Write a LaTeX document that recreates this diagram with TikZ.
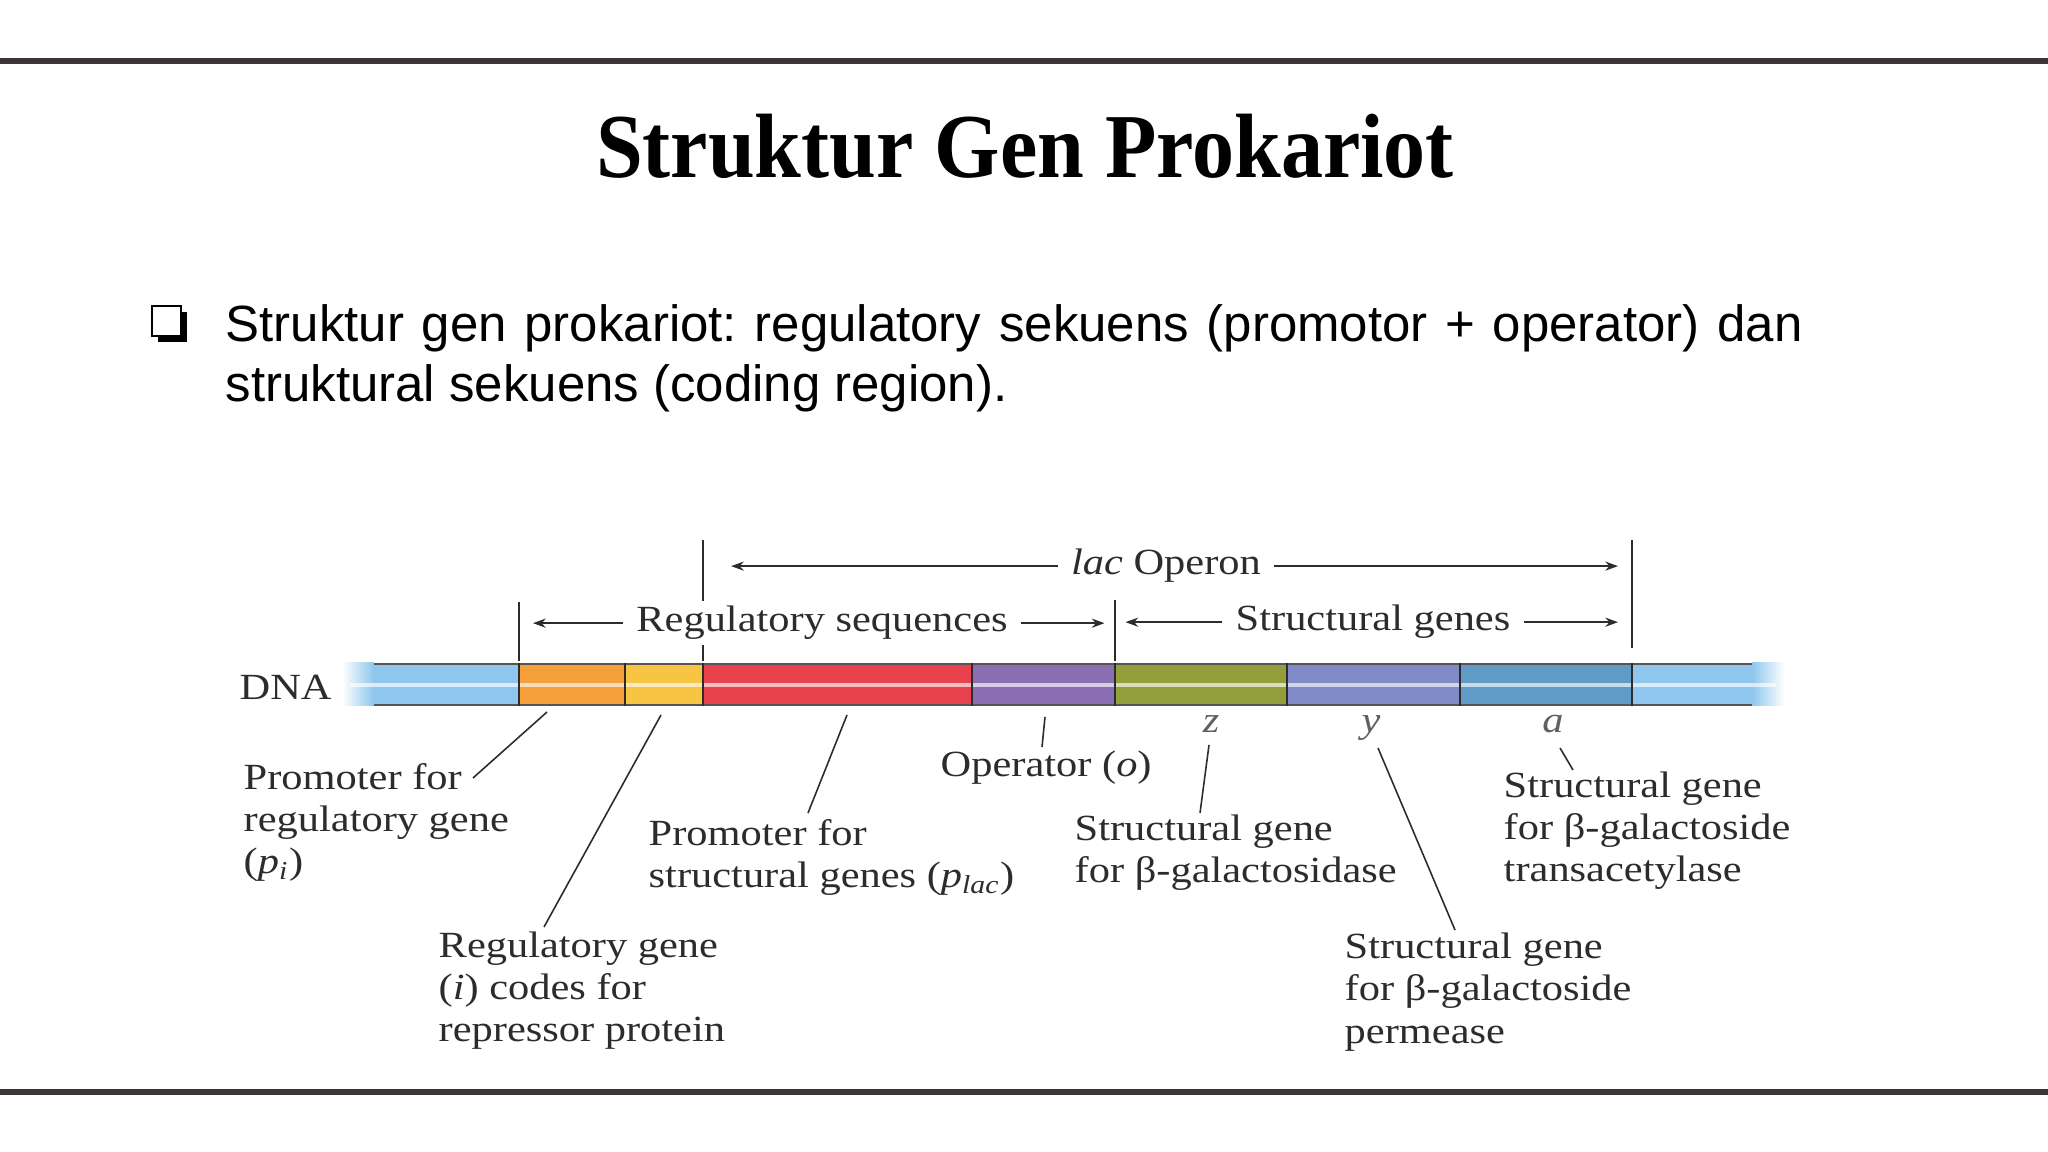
\documentclass[tikz,border=0pt]{standalone}
\usepackage{fontspec}
\setmainfont{Liberation Serif}
\setsansfont{Liberation Sans}
\newfontfamily\figfont[FakeStretch=1.15]{Liberation Serif}
\newfontfamily\headfont[FakeStretch=0.92]{Liberation Serif}
\usetikzlibrary{arrows.meta,positioning,calc}
\definecolor{ruleGray}{HTML}{3B3536}
\definecolor{figInk}{HTML}{2E2B2C}
\definecolor{dnaSky}{HTML}{8EC6EE}
\definecolor{dnaOrange}{HTML}{F5A03A}
\definecolor{dnaYellow}{HTML}{F7C443}
\definecolor{dnaRed}{HTML}{E8424F}
\definecolor{dnaPurple}{HTML}{8A6FB2}
\definecolor{dnaOlive}{HTML}{929F3B}
\definecolor{dnaPeri}{HTML}{7F8AC7}
\definecolor{dnaTeal}{HTML}{5F9BC4}
\tikzset{
  % Labels of the lac operon figure.
  lac/label/.style={
    font=\figfont\fontsize{10.5}{12}\selectfont, text=figInk,
    inner sep=0pt, align=left
  },
  % Span labels sit on the dimension lines and hide the ticks behind them.
  lac/span/.style={
    lac/label, fill=white, inner xsep=3.6pt, inner ysep=1.5pt
  },
  lac/tick/.style={draw=figInk, line width=0.45pt},
  lac/dim/.style={
    -{Stealth[length=3.6pt,width=2.6pt]}, draw=figInk, line width=0.45pt
  },
  lac/lead/.style={draw=figInk, line width=0.45pt},
}

\begin{document}
\begin{tikzpicture}[x=0.1mm,y=-0.1mm,
  gene/.style={font=\figfont\itshape\fontsize{10.5}{12}\selectfont, text=figInk!75, inner sep=0pt},
  sep/.style={draw=figInk, line width=0.6pt}]
  \useasboundingbox (0,0) rectangle (2048,1152);
  \fill[white] (0,0) rectangle (2048,1152);
  \fill[ruleGray] (0,58) rectangle (2048,64);
  \fill[ruleGray] (0,1089) rectangle (2048,1095);

  \node[font=\headfont\bfseries\fontsize{26}{30}\selectfont, anchor=base] (title) at (1025,178)
       {Struktur Gen Prokariot};
  \fill[black] (158,312) rectangle (187,342);
  \filldraw[fill=white, draw=black, line width=0.5pt] (152,306) rectangle (181,336);
  \node[font=\sffamily\fontsize{14.5}{17}\selectfont\frenchspacing, text width=157.7mm, align=justify,
        inner sep=0pt, anchor=base west] (intro) at (225,342)
       {Struktur gen prokariot: regulatory sekuens (promotor + operator) dan struktural sekuens (coding region).};

  % DNA strand
  \shade[left color=white, right color=dnaSky] (342,663) rectangle (374,706);
  \foreach \xa/\xb/\col in {374/519/dnaSky, 519/625/dnaOrange, 625/703/dnaYellow,
      703/972/dnaRed, 972/1115/dnaPurple, 1115/1287/dnaOlive, 1287/1460/dnaPeri,
      1460/1632/dnaTeal, 1632/1752/dnaSky}
    \fill[\col] (\xa,663) rectangle (\xb,706);
  \shade[left color=dnaSky, right color=white] (1752,663) rectangle (1784,706);
  \draw[ruleGray!85, line width=0.7pt] (374,664) -- (1752,664);
  \draw[ruleGray!85, line width=0.7pt] (374,705) -- (1752,705);
  \draw[white, opacity=0.65, line width=1.3pt] (350,685) -- (1776,685);
  \foreach \x in {519,625,703,972,1115,1287,1460,1632}
    \draw[sep] (\x,663) -- (\x,706);
  \node[lac/label, anchor=base west] (dna) at (239,700) {DNA};

  % spans above the strand
  \coordinate (regL) at (519,602);  \coordinate (regLb) at (519,661);
  \coordinate (opL)  at (703,540);  \coordinate (opLb)  at (703,661);
  \coordinate (regR) at (1115,600); \coordinate (regRb) at (1115,661);
  \coordinate (opR)  at (1632,540); \coordinate (opRb)  at (1632,648);
  \draw[lac/tick] (regL) -- (regLb);
  \draw[lac/tick] (opL) -- (opLb);
  \draw[lac/tick] (regR) -- (regRb);
  \draw[lac/tick] (opR) -- (opRb);
  \node[lac/span, anchor=base] (lacop) at (1166,575) {\textit{lac} Operon};
  \node[lac/span, anchor=base] (regseq) at (822,632) {Regulatory sequences};
  \node[lac/span, anchor=base] (strgen) at (1373,631) {Structural genes};
  \draw[lac/dim, shorten >=8pt] (lacop.west) -- (lacop.west -| opL);
  \draw[lac/dim, shorten >=4pt] (lacop.east) -- (lacop.east -| opR);
  \draw[lac/dim, shorten >=4pt] (regseq.west) -- (regseq.west -| regL);
  \draw[lac/dim, shorten >=3pt] (regseq.east) -- (regseq.east -| regR);
  \draw[lac/dim, shorten >=3pt] (strgen.west) -- (strgen.west -| regR);
  \draw[lac/dim, shorten >=4pt] (strgen.east) -- (strgen.east -| opR);

  % labels below the strand (base = last line)
  \node[gene, anchor=base] (zg) at (1211,733) {z};
  \node[gene, anchor=base] (yg) at (1371,733) {y};
  \node[gene, anchor=base] (ag) at (1553,733) {a};
  \node[lac/label, anchor=base west] (lbPi) at (243,874)
       {Promoter for\\regulatory gene\\(\textit{p\textsubscript{i}})};
  \node[lac/label, anchor=base west] (lbI) at (438,1042)
       {Regulatory gene\\(\textit{i}) codes for\\repressor protein};
  \node[lac/label, anchor=base west] (lbPlac) at (648,888)
       {Promoter for\\structural genes (\textit{p\textsubscript{lac}})};
  \node[lac/label, anchor=base west] (lbO) at (940,777) {Operator (\textit{o})};
  \node[lac/label, anchor=base west] (lbZ) at (1074,883)
       {Structural gene\\for β-galactosidase};
  \node[lac/label, anchor=base west] (lbY) at (1344,1043)
       {Structural gene\\for β-galactoside\\permease};
  \node[lac/label, anchor=base west] (lbA) at (1503,882)
       {Structural gene\\for β-galactoside\\transacetylase};

  \coordinate (piA) at (547,712);   \coordinate (piB) at (473,778);
  \coordinate (iA) at (661,715);    \coordinate (iB) at (544,927);
  \coordinate (plA) at (847,715);   \coordinate (plB) at (808,813);
  \coordinate (oA) at (1045,717);   \coordinate (oB) at (1042,747);
  \coordinate (zA) at (1209,745);   \coordinate (zB) at (1200,813);
  \coordinate (yA) at (1378,748);   \coordinate (yB) at (1455,930);
  \coordinate (aA) at (1560,748);   \coordinate (aB) at (1573,770);
  \draw[lac/lead] (piA) -- (piB);
  \draw[lac/lead] (iA) -- (iB);
  \draw[lac/lead] (plA) -- (plB);
  \draw[lac/lead] (oA) -- (oB);
  \draw[lac/lead] (zA) -- (zB);
  \draw[lac/lead] (yA) -- (yB);
  \draw[lac/lead] (aA) -- (aB);
\end{tikzpicture}
\end{document}
